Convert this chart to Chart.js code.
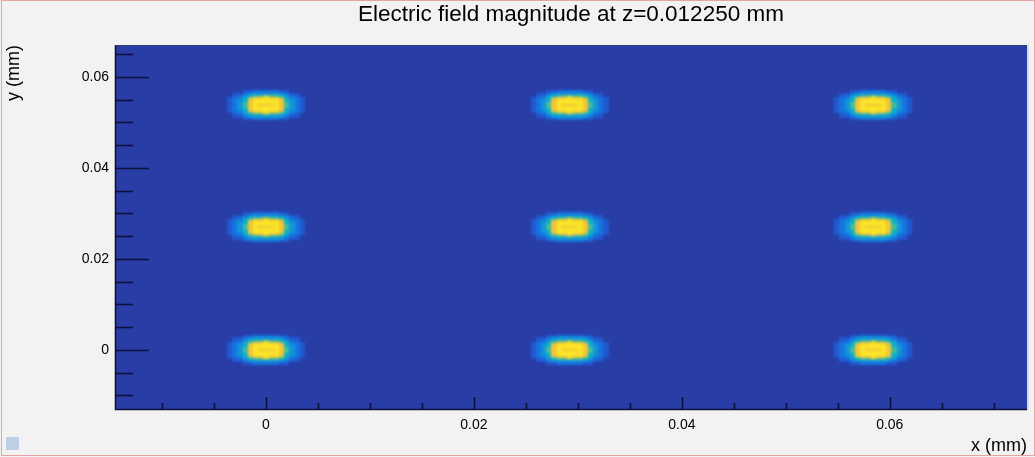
<!DOCTYPE html>
<html lang="en">
<head>
<meta charset="UTF-8">
<title>Electric field magnitude</title>
<script src="https://cdn.jsdelivr.net/npm/chart.js"></script>
<style>
  html, body { margin: 0; padding: 0; background: #f2f2f2; }
  #wrap { position: relative; width: 1035px; height: 457px; }
  #field { display: block; background: #f2f2f2; }
  #title {
    position: absolute; left: 115px; width: 912px; top: 1px;
    text-align: center; font: 22.5px 'Liberation Sans', Arial, sans-serif; color: #000;
  }
</style>
</head>
<body>
<div id="wrap">
  <canvas id="field" width="1035" height="457"></canvas>
  <div id="title">Electric field magnitude at z=0.012250 mm</div>
</div>
<script>
// axis ranges (mm)
const xRange = [-0.01452, 0.0732];
const yRange = [-0.0132, 0.0670];
const xMajor = [0, 0.02, 0.04, 0.06];
const xMinor = [-0.01, -0.005, 0.005, 0.01, 0.015, 0.025, 0.03, 0.035, 0.045, 0.05, 0.055, 0.065, 0.07];
const yMajor = [0, 0.02, 0.04, 0.06];
const yMinor = [-0.01, -0.005, 0.005, 0.01, 0.015, 0.025, 0.03, 0.035, 0.045, 0.05, 0.055, 0.065];

// spot centres (mm)
const spotX = [0, 0.0292, 0.0584];
const spotY = [0, 0.0270, 0.0538];

// cell pitch of the map (mm)
const cellSize = 0.0005;

// colour level of each cell around a spot centre, top row first
const spotLevels = [
  [0,0,0,1,1,2,2,2,2,2,1,1,0,0,0],
  [0,1,1,2,3,3,3,3,3,3,3,2,1,1,0],
  [0,1,2,3,4,5,5,6,5,5,4,3,2,1,0],
  [1,2,2,4,6,7,7,8,7,7,6,4,2,2,1],
  [1,2,3,4,7,8,8,8,8,8,7,4,3,2,1],
  [1,2,3,5,7,8,8,8,8,8,7,5,3,2,1],
  [1,2,3,5,7,8,7,7,7,8,7,5,3,2,1],
  [1,2,3,5,7,8,8,8,8,8,7,5,3,2,1],
  [1,2,3,4,7,8,8,8,8,8,7,4,3,2,1],
  [1,2,2,4,6,7,7,8,7,7,6,4,2,2,1],
  [0,1,2,3,4,5,5,6,5,5,4,3,2,1,0],
  [0,1,1,2,3,3,3,3,3,3,3,2,1,1,0],
  [0,0,0,1,1,2,2,2,2,2,1,1,0,0,0]
];

const levelColors = [
  'rgb(41,61,166)',
  'rgb(32,88,208)',
  'rgb(22,116,222)',
  'rgb(16,150,218)',
  'rgb(12,175,200)',
  'rgb(70,188,152)',
  'rgb(168,192,102)',
  'rgb(242,198,58)',
  'rgb(249,228,38)'
];

// cells of the map, built from the spot table
const cells = [];
spotY.forEach(cy => {
  spotX.forEach(cx => {
    spotLevels.forEach((row, r) => {
      row.forEach((v, c) => {
        if (v > 0) {
          cells.push({ x: cx + (c - 7) * cellSize, y: cy + (6 - r) * cellSize, v: v });
        }
      });
    });
  });
});

Chart.defaults.font.family = "'Liberation Sans', Arial, sans-serif";
Chart.defaults.color = '#000';

// paints the cells through the scales (on a layer, then slightly softened)
const fieldMap = {
  id: 'fieldMap',
  beforeDatasetsDraw(chart) {
    const { ctx, chartArea: a, scales: { x, y } } = chart;
    const layer = document.createElement('canvas');
    layer.width = chart.width;
    layer.height = chart.height;
    const lc = layer.getContext('2d');
    lc.fillStyle = levelColors[0];
    lc.fillRect(0, 0, layer.width, layer.height);
    const h = cellSize / 2;
    chart.data.datasets[0].data.forEach(p => {
      const x0 = Math.round(x.getPixelForValue(p.x - h));
      const x1 = Math.round(x.getPixelForValue(p.x + h));
      const y0 = Math.round(y.getPixelForValue(p.y + h));
      const y1 = Math.round(y.getPixelForValue(p.y - h));
      lc.fillStyle = levelColors[p.v];
      lc.fillRect(x0, y0, x1 - x0, y1 - y0);
    });
    ctx.save();
    ctx.beginPath();
    ctx.rect(a.left, a.top, a.right - a.left, a.bottom - a.top);
    ctx.clip();
    ctx.filter = 'blur(0.9px)';
    ctx.drawImage(layer, 0, 0, chart.width, chart.height);
    ctx.restore();
  }
};

// ticks inside the frame, like the original plotting tool
const frameTicks = {
  id: 'frameTicks',
  afterDatasetsDraw(chart) {
    const { ctx, chartArea: a, scales: { x, y } } = chart;
    ctx.save();
    ctx.strokeStyle = 'rgba(12,16,52,0.95)';
    ctx.lineWidth = 1.6;
    const vTick = (v, len) => {
      const px = Math.round(x.getPixelForValue(v)) + 0.5;
      ctx.beginPath(); ctx.moveTo(px, a.bottom); ctx.lineTo(px, a.bottom - len); ctx.stroke();
    };
    const hTick = (v, len) => {
      const py = Math.round(y.getPixelForValue(v)) + 0.5;
      ctx.beginPath(); ctx.moveTo(a.left, py); ctx.lineTo(a.left + len, py); ctx.stroke();
    };
    xMajor.forEach(v => vTick(v, 13));
    xMinor.forEach(v => vTick(v, 7));
    yMajor.forEach(v => hTick(v, 34));
    yMinor.forEach(v => hTick(v, 18));

    // frame edges
    ctx.beginPath();
    ctx.moveTo(a.left + 0.5, a.top); ctx.lineTo(a.left + 0.5, a.bottom);
    ctx.moveTo(a.left, a.bottom - 0.5); ctx.lineTo(a.right, a.bottom - 0.5);
    ctx.stroke();
    ctx.strokeStyle = 'rgba(60,60,90,0.7)';
    ctx.lineWidth = 1;
    ctx.beginPath(); ctx.moveTo(a.left, a.top + 0.5); ctx.lineTo(a.right, a.top + 0.5); ctx.stroke();
    ctx.strokeStyle = '#dcdce4';
    ctx.lineWidth = 2;
    ctx.beginPath(); ctx.moveTo(a.right + 1, a.top); ctx.lineTo(a.right + 1, a.bottom); ctx.stroke();
    ctx.restore();
  },
  afterDraw(chart) {
    const ctx = chart.ctx;
    ctx.save();
    ctx.strokeStyle = '#e6a3a3';
    ctx.lineWidth = 1;
    ctx.strokeRect(1.5, 0.5, chart.width - 2, chart.height - 2);
    ctx.fillStyle = '#bccfe5';
    ctx.fillRect(6, 437, 13, 13);
    ctx.restore();
  }
};

new Chart(document.getElementById('field').getContext('2d'), {
  type: 'scatter',
  data: {
    datasets: [{ data: cells, pointRadius: 0, pointHoverRadius: 0 }]
  },
  options: {
    responsive: false,
    animation: false,
    events: [],
    layout: { padding: { left: 0, right: 8, top: 45, bottom: 0 } },
    plugins: {
      legend: { display: false },
      tooltip: { enabled: false },
      title: { display: false }
    },
    scales: {
      x: {
        type: 'linear',
        min: xRange[0],
        max: xRange[1],
        grid: { display: false, drawTicks: false },
        border: { display: false },
        afterBuildTicks: s => { s.ticks = xMajor.map(v => ({ value: v })); },
        afterFit: s => { s.height = 47; },
        ticks: {
          padding: 7,
          font: { size: 14 },
          maxRotation: 0,
          callback: v => String(+v.toFixed(3))
        },
        title: {
          display: true,
          text: 'x (mm)',
          align: 'end',
          font: { size: 18 },
          padding: { top: 0, bottom: 0 }
        }
      },
      y: {
        type: 'linear',
        min: yRange[0],
        max: yRange[1],
        grid: { display: false, drawTicks: false },
        border: { display: false },
        afterBuildTicks: s => { s.ticks = yMajor.map(v => ({ value: v })); },
        afterFit: s => { s.width = 115; },
        ticks: {
          padding: 6,
          font: { size: 14 },
          callback: v => String(+v.toFixed(3))
        },
        title: {
          display: true,
          text: 'y (mm)',
          align: 'end',
          font: { size: 18 },
          padding: { top: 3, bottom: 0 }
        }
      }
    }
  },
  plugins: [fieldMap, frameTicks]
});
</script>
</body>
</html>
